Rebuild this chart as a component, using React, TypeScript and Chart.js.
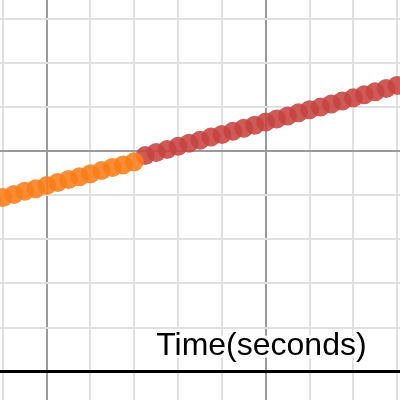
import React, { useEffect, useRef } from "react";
import { Chart, registerables } from "chart.js";

Chart.register(...registerables);

// Orange series (time in seconds vs value)
const orangeX = [3.75, 4, 4.25, 4.5, 4.75, 5, 5.25, 5.5, 5.75, 6, 6.25, 6.5, 6.75, 7];
const orangeY = [3.88, 3.95, 4.02, 4.09, 4.15, 4.22, 4.29, 4.36, 4.42, 4.49, 4.56, 4.63, 4.69, 4.76];

// Red series
const redX = [7.25, 7.5, 7.75, 8, 8.25, 8.5, 8.75, 9, 9.25, 9.5, 9.75, 10, 10.25, 10.5, 10.75, 11, 11.25, 11.5, 11.75, 12, 12.25, 12.5, 12.75, 13];
const redY = [4.9, 4.97, 5.04, 5.11, 5.18, 5.25, 5.32, 5.38, 5.45, 5.52, 5.59, 5.66, 5.73, 5.8, 5.87, 5.94, 6.0, 6.07, 6.14, 6.21, 6.28, 6.35, 6.42, 6.49];

// Grid lines
const xTicks = [4, 5, 6, 7, 8, 9, 10, 11, 12, 13];
const yTicks = [-1, 0, 1, 2, 3, 4, 5, 6, 7, 8];

const axisTitle = "Time(seconds)";
const titleAt = { x: 7.5, y: 0.38 };

const gridColor = (v: number) => (v === 0 ? "#000000" : v % 5 === 0 ? "#9a9a9a" : "#e0e0e0");
const gridWidth = (v: number) => (v === 0 ? 3 : 2);

const labelPlugin = {
  id: "axisLabel",
  afterDatasetsDraw(chart: any) {
    const { ctx, scales } = chart;
    const px = scales.x.getPixelForValue(titleAt.x);
    const py = scales.y.getPixelForValue(titleAt.y);
    ctx.save();
    ctx.font = '32px "Liberation Sans", Arial, sans-serif';
    ctx.textAlign = "left";
    ctx.textBaseline = "alphabetic";
    ctx.lineJoin = "round";
    ctx.lineWidth = 6;
    ctx.strokeStyle = "rgba(255,255,255,0.9)";
    ctx.strokeText(axisTitle, px, py);
    ctx.fillStyle = "#000000";
    ctx.fillText(axisTitle, px, py);
    ctx.restore();
  },
};

export default function App() {
  const ref = useRef<HTMLCanvasElement | null>(null);

  useEffect(() => {
    if (!ref.current) return;
    const chart = new Chart(ref.current, {
      type: "scatter",
      data: {
        datasets: [
          {
            label: "orange",
            data: orangeX.map((x, i) => ({ x, y: orangeY[i] })),
            backgroundColor: "rgba(250,126,25,0.88)",
            borderWidth: 0,
            pointRadius: 9.5,
            pointHoverRadius: 9.5,
          },
          {
            label: "red",
            data: redX.map((x, i) => ({ x, y: redY[i] })),
            backgroundColor: "rgba(199,68,64,0.88)",
            borderWidth: 0,
            pointRadius: 9.5,
            pointHoverRadius: 9.5,
          },
        ],
      },
      options: {
        responsive: false,
        animation: false,
        devicePixelRatio: 1,
        layout: { padding: 0, autoPadding: false },
        plugins: {
          legend: { display: false },
          tooltip: { enabled: false },
          title: { display: false },
        },
        scales: {
          x: {
            type: "linear",
            min: 3.934,
            max: 13.066,
            afterBuildTicks: (scale: any) => {
              scale.ticks = xTicks.map((v) => ({ value: v }));
            },
            ticks: { display: false },
            border: { display: false },
            grid: {
              drawTicks: false,
              color: (c: any) => gridColor(c.tick.value),
              lineWidth: (c: any) => gridWidth(c.tick.value),
            },
          },
          y: {
            type: "linear",
            min: -0.642,
            max: 8.429,
            afterBuildTicks: (scale: any) => {
              scale.ticks = yTicks.map((v) => ({ value: v }));
            },
            ticks: { display: false },
            border: { display: false },
            grid: {
              drawTicks: false,
              color: (c: any) => gridColor(c.tick.value),
              lineWidth: (c: any) => gridWidth(c.tick.value),
            },
          },
        },
      },
      plugins: [labelPlugin],
    });
    return () => chart.destroy();
  }, []);

  return (
    <div style={{ position: "fixed", left: 0, top: 0, width: 400, height: 400, background: "#ffffff" }}>
      <canvas ref={ref} width={400} height={400} />
    </div>
  );
}
